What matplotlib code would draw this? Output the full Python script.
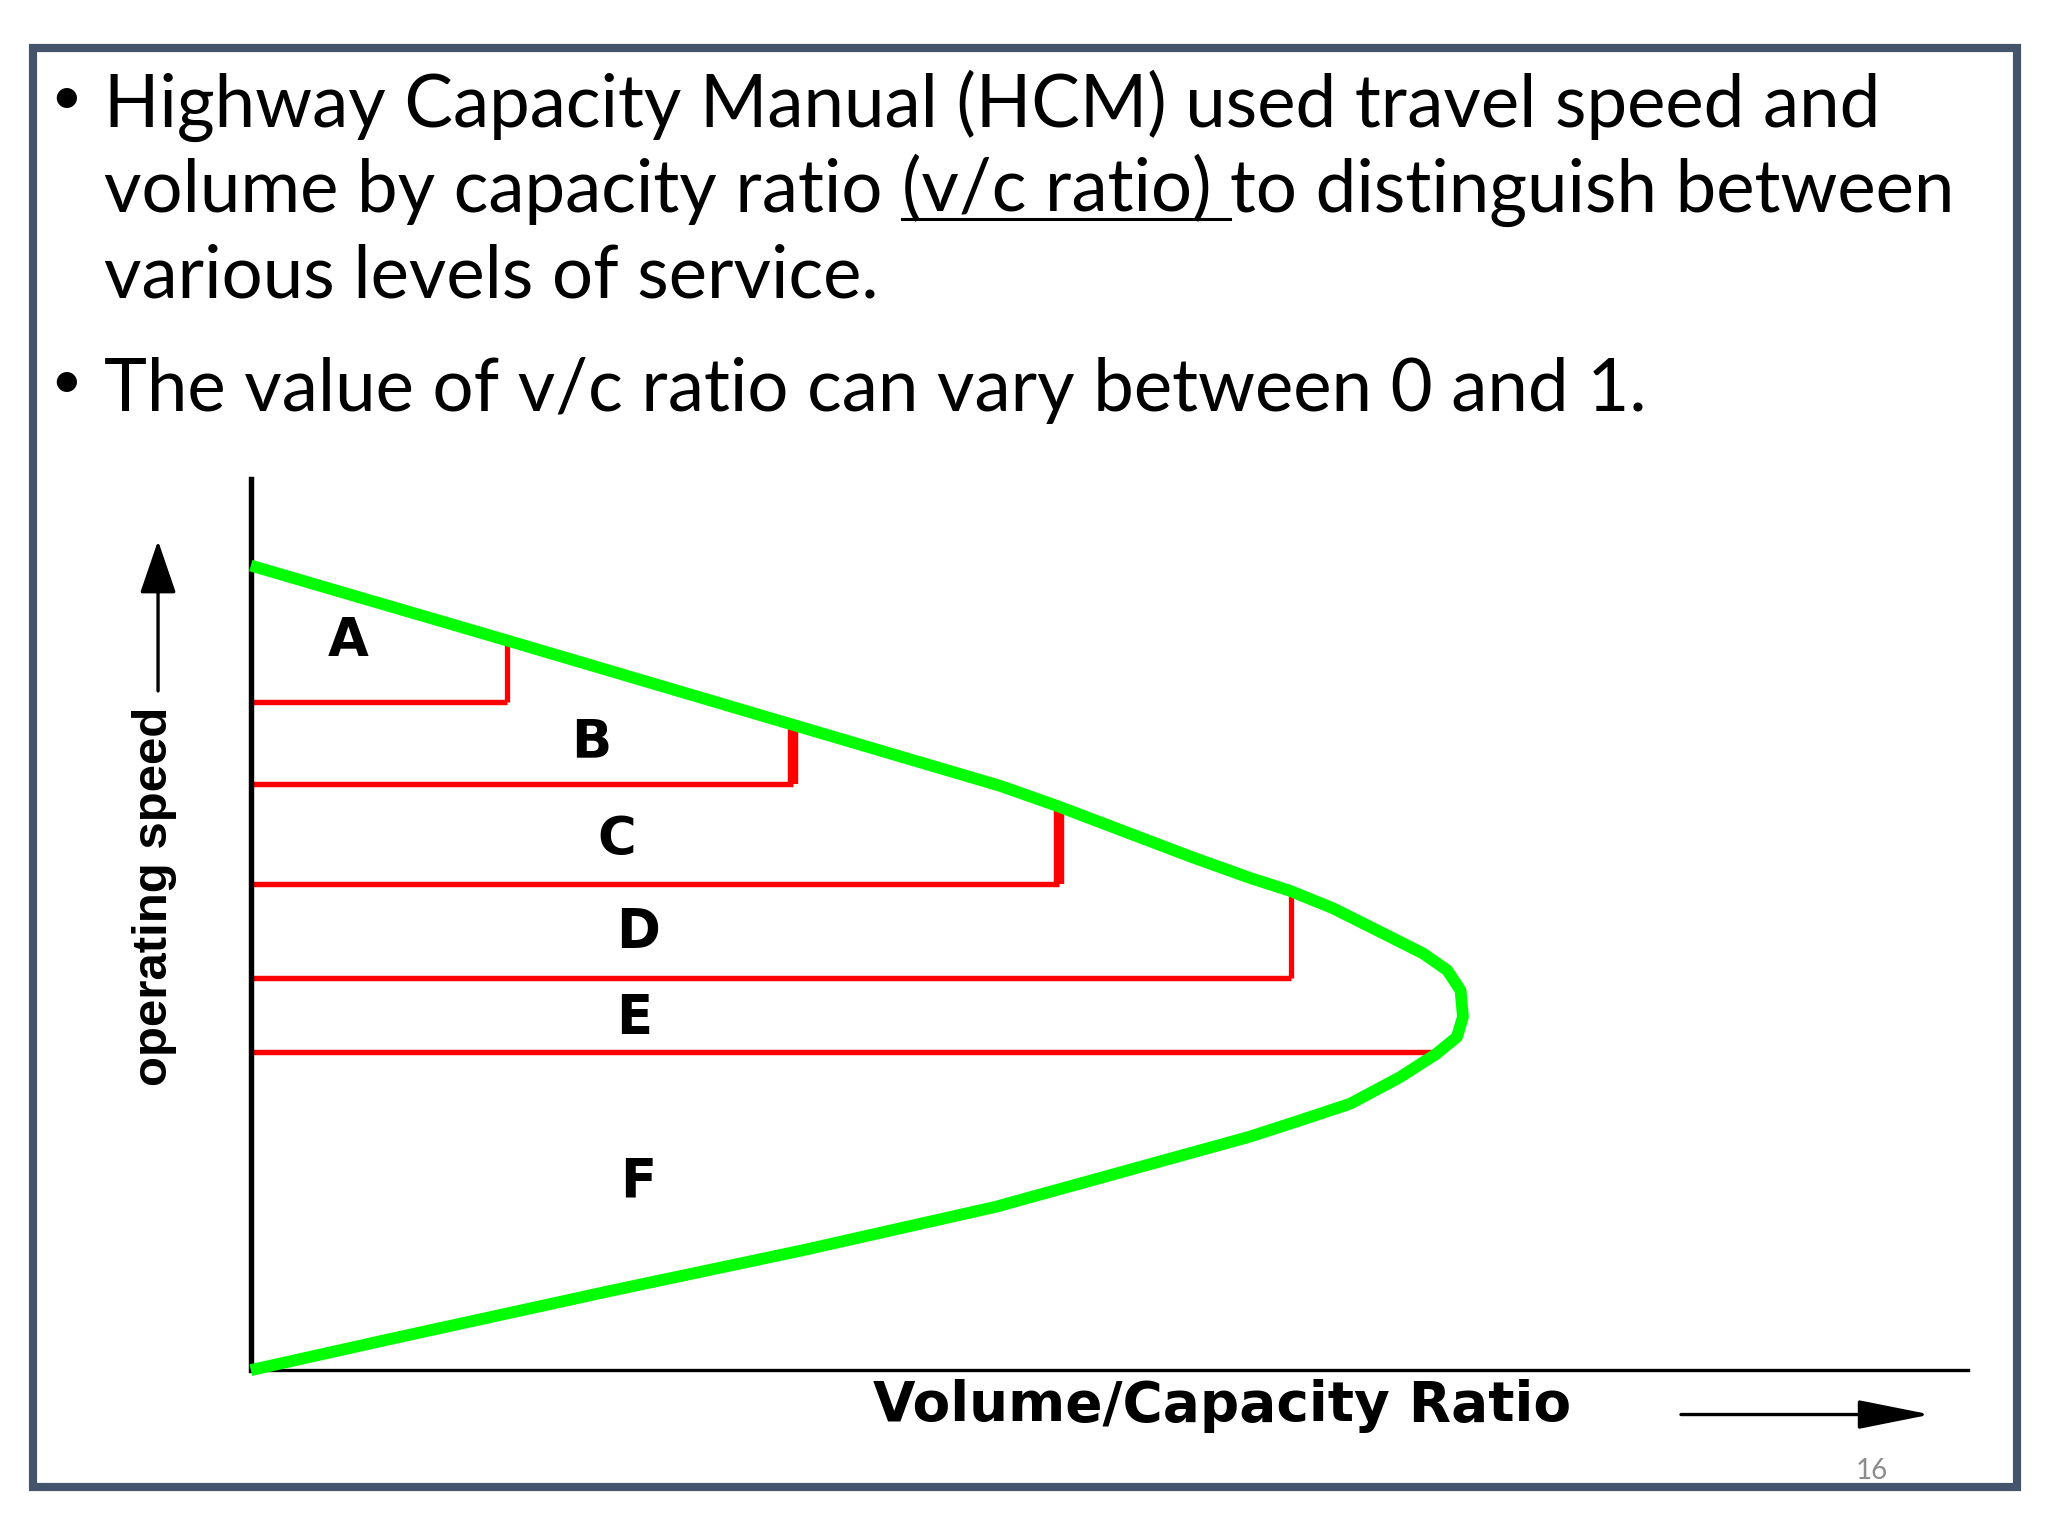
import matplotlib
matplotlib.use('Agg')
import matplotlib.pyplot as plt
from matplotlib import font_manager
from matplotlib.patches import Rectangle

# speed / flow curve of the HCM figure: v/c ratio against relative operating speed
vc_ratio = [0.000, 0.211, 0.447, 0.618, 0.665, 0.775, 0.823, 0.856, 0.892, 0.933, 0.966, 0.986,
            0.997, 0.999, 0.994, 0.977, 0.947, 0.906, 0.864, 0.823, 0.614, 0.455, 0.298, 0.116,
            0.000]
speed = [1.000, 0.907, 0.802, 0.726, 0.701, 0.638, 0.612, 0.596, 0.574, 0.543, 0.518, 0.497,
         0.472, 0.439, 0.414, 0.393, 0.364, 0.331, 0.310, 0.290, 0.203, 0.149, 0.099, 0.039,
         0.000]

# level of service bands (lower speed bound, v/c where the band stops, top of the step)
los_floor = [0.831, 0.729, 0.604, 0.487, 0.396]
los_vc_max = [0.211, 0.447, 0.666, 0.857, 0.974]
los_top = [0.907, 0.802, 0.696, 0.594, None]
step_lw = [3.8, 7.5, 7.5, 3.8]

los_labels = ['A', 'B', 'C', 'D', 'E', 'F']
label_vc = [0.080, 0.281, 0.302, 0.319, 0.316, 0.319]
label_speed = [0.906, 0.780, 0.659, 0.544, 0.438, 0.235]

bullet1 = ["Highway Capacity Manual (HCM) used travel speed and",
           None,
           "various levels of service."]
line2_parts = ["volume by capacity ratio ", "(v/c ratio) ", "to distinguish between"]
bullet2 = "The value of v/c ratio can vary between 0 and 1."

W, H = 1568, 1176   # layout units of the slide
fig = plt.figure(figsize=(20.48, 15.36), dpi=100)
page = fig.add_axes([0, 0, 1, 1])
page.set_xlim(0, W)
page.set_ylim(H, 0)
page.axis('off')

fonts = {f.name for f in font_manager.fontManager.ttflist}
narrow = 'Liberation Sans Narrow' if 'Liberation Sans Narrow' in fonts else 'Liberation Sans'

r = fig.canvas.get_renderer()
px2u = W / 2048.0


def ext(t):
    bb = t.get_window_extent(r)
    return bb.width * px2u, bb.height * px2u


# slide frame
page.add_patch(Rectangle((25, 36.4), 1519, 1102.2, fill=False, ec='#44546A', lw=5.9))

# bullet text
body = dict(family='Lato', color='black', va='baseline', ha='left')
t1 = page.text(80, 97, bullet1[0], fontsize=50, **body)
fs = 50 * 1360 / ext(t1)[0]
t1.set_fontsize(fs)

x = 80
for i, part in enumerate(line2_parts):
    t = page.text(x, 162, part, fontsize=fs, **body)
    w = ext(t)[0]
    if i == 1:
        page.plot([x, x + w], [168, 168], color='black', lw=2.2)
    x += w

page.text(80, 228, bullet1[2], fontsize=fs, **body)
page.text(80, 315, bullet2, fontsize=fs, **body)
for yb in [87, 305]:
    page.text(51, yb, '\u2022', fontsize=fs * 0.75, family='Lato', color='black',
              ha='center', va='baseline')

# page number
page.text(1433, 1132, '16', fontsize=20, family='Lato', color='#8C8C8C', ha='center', va='baseline')

# chart
ax = fig.add_axes([192 / W, 1 - 1049 / H, (1507 - 192) / W, (1049 - 367) / H])
ax.set_facecolor('none')
ax.set_xlim(0, 1315 / 929)
ax.set_ylim(0, 682 / 616)
for s in ['top', 'right']:
    ax.spines[s].set_visible(False)
ax.spines['left'].set_linewidth(3.9)
ax.spines['bottom'].set_linewidth(2.4)
ax.set_xticks([])
ax.set_yticks([])

for i in range(len(los_floor)):
    ax.plot([0, los_vc_max[i]], [los_floor[i], los_floor[i]], color='#FF0000', lw=3.9,
            solid_capstyle='butt')
    if los_top[i] is not None:
        ax.plot([los_vc_max[i], los_vc_max[i]], [los_floor[i], los_top[i]], color='#FF0000',
                lw=step_lw[i], solid_capstyle='butt')

ax.plot(vc_ratio, speed, color='#00FF00', lw=8.5, clip_on=False, solid_capstyle='butt',
        solid_joinstyle='round', zorder=3)

for lab, lx, ly in zip(los_labels, label_vc, label_speed):
    ax.text(lx, ly, lab, fontsize=38, family='DejaVu Sans', weight='bold', ha='center', va='center')

# axis titles with arrows
yl = page.text(118, 686, 'operating speed', rotation=90, fontsize=40, family=narrow,
               weight='bold', ha='center', va='center')
yl.set_fontsize(40 * 290 / ext(yl)[1])

xl = page.text(936, 1088, 'Volume/Capacity Ratio', fontsize=36, family='DejaVu Sans',
               weight='bold', ha='center', va='baseline')
xl.set_fontsize(36 * 0.86 * 622 / ext(xl)[0])

page.annotate('', xy=(121, 414), xytext=(121, 529),
              arrowprops=dict(arrowstyle='-|>,head_length=3.3,head_width=1.13', lw=2.4,
                              color='black', shrinkA=0, shrinkB=0, mutation_scale=10))
page.annotate('', xy=(1478, 1083), xytext=(1287, 1083),
              arrowprops=dict(arrowstyle='-|>,head_length=4.5,head_width=0.9', lw=2.4,
                              color='black', shrinkA=0, shrinkB=0, mutation_scale=10))

fig.savefig('out.png', dpi=100, facecolor='white')
